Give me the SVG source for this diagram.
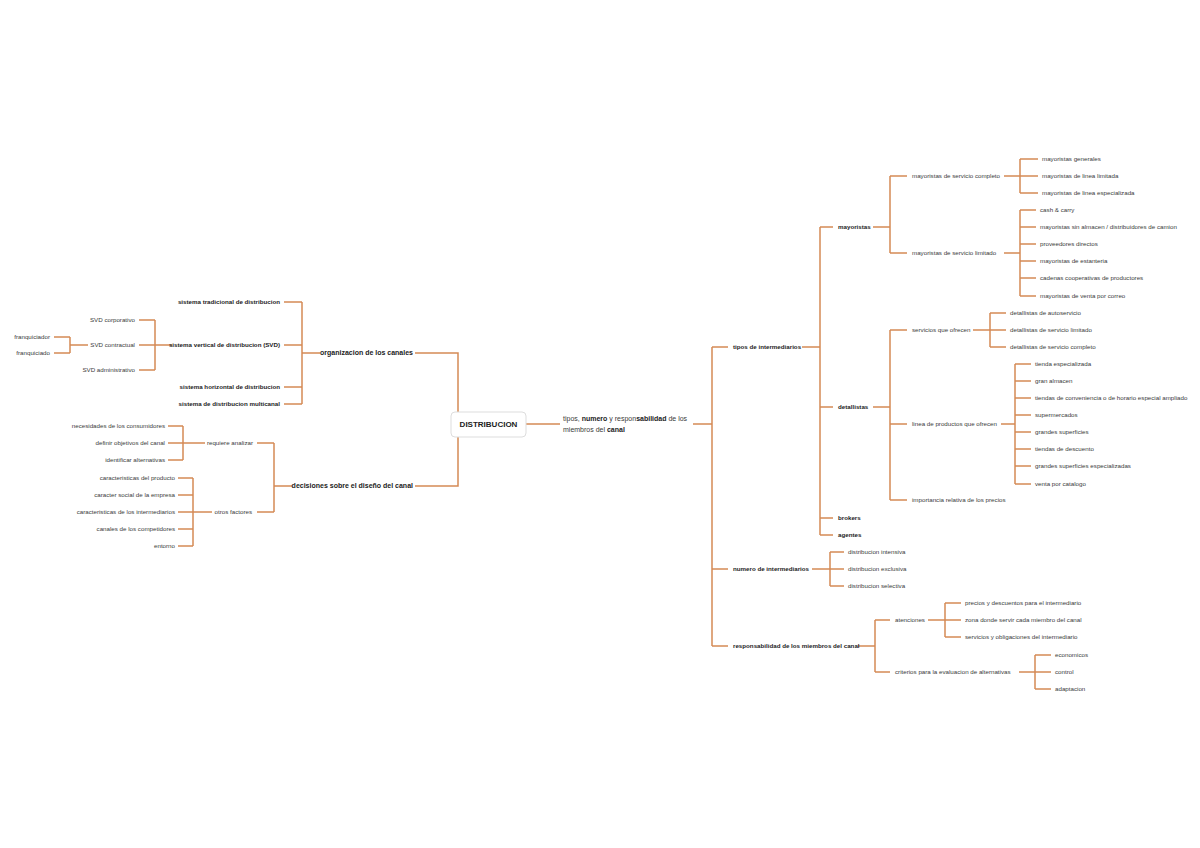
<svg xmlns="http://www.w3.org/2000/svg" width="1200" height="848" viewBox="0 0 1200 848">
<style>
text{font-family:"Liberation Sans",Arial,sans-serif;font-size:6.2px;fill:#3a3a3a;dominant-baseline:middle}
.b{font-weight:bold;fill:#222}
.r{text-anchor:end}
.m{font-size:7px}
#connectors path{fill:none;stroke:#d58a55;stroke-width:1.5}
</style>
<rect width="1200" height="848" fill="#fff"/>
<g id="connectors">
<path d="M526 424H560M693 424H712M712 347V646M712 347H728M712 569H728M712 646H728"/>
<path d="M802 347H820M820 227V535M820 227H833M820 407H833M820 518H833M820 535H833"/>
<path d="M873 227H890M890 176V253M890 176H907M890 253H907M1004 176H1020M1020 159V193M1020 159H1038M1020 176H1038M1020 193H1038"/>
<path d="M1004 253H1020M1020 210V296M1020 210H1036M1020 227H1036M1020 244H1036M1020 261H1036M1020 278H1036M1020 296H1036"/>
<path d="M873 407H890M890 330V500M890 330H907M890 424H907M890 500H907M973 330H990M990 313V347M990 313H1006M990 330H1006M990 347H1006"/>
<path d="M1001 424H1015M1015 364V484M1015 364H1031M1015 381H1031M1015 398H1031M1015 415H1031M1015 432H1031M1015 449H1031M1015 466H1031M1015 484H1031"/>
<path d="M812 569H830M830 552V586M830 552H844M830 569H844M830 586H844"/>
<path d="M858 646H875M875 620V672M875 620H890M875 672H890M928 620H945M945 603V637M945 603H961M945 620H961M945 637H961M1019 672H1035M1035 655V689M1035 655H1051M1035 672H1051M1035 689H1051"/>
<path d="M458 412V353H415M458 437V486H415M320 353H302M302 302V404M302 302H284M302 345H284M302 387H284M302 404H284"/>
<path d="M172 345H155M155 320V370M155 320H139M155 345H139M155 370H139M88 345H70M70 337V353M70 337H54M70 353H54"/>
<path d="M292 486H274M274 443V512M274 443H257M274 512H257M205 443H183M183 426V460M183 426H168M183 443H168M183 460H168M212 512H193M193 478V546M193 478H178M193 495H178M193 512H178M193 529H178M193 546H178"/>
</g>
<g id="central"><rect x="451" y="412" width="75" height="25" rx="4" fill="#fff" stroke="#ddd"/><text x="488.5" y="424.5" class="b" style="font-size:8px;text-anchor:middle">DISTRIBUCION</text></g>
<g id="n-tipos"><text x="563" y="419" class="m">tipos, <tspan class="b">numero</tspan> y respon<tspan class="b">sabilidad</tspan> de los</text><text x="563" y="430" class="m">miembros del <tspan class="b">canal</tspan></text></g>
<g id="n-right">
<text x="733" y="347" class="b">tipos de intermediarios</text>
<text x="838" y="227" class="b">mayoristas</text>
<text x="912" y="176">mayoristas de servicio completo</text>
<text x="1042" y="159">mayoristas generales</text>
<text x="1042" y="176">mayoristas de linea limitada</text>
<text x="1042" y="193">mayoristas de linea especializada</text>
<text x="912" y="253">mayoristas de servicio limitado</text>
<text x="1040" y="210">cash &amp; carry</text>
<text x="1040" y="227">mayoristas sin almacen / distribuidores de camion</text>
<text x="1040" y="244">proveedores directos</text>
<text x="1040" y="261">mayoristas de estanteria</text>
<text x="1040" y="278">cadenas cooperativas de productores</text>
<text x="1040" y="296">mayoristas de venta por correo</text>
<text x="838" y="407" class="b">detallistas</text>
<text x="912" y="330">servicios que ofrecen</text>
<text x="1010" y="313">detallistas de autoservicio</text>
<text x="1010" y="330">detallistas de servicio limitado</text>
<text x="1010" y="347">detallistas de servicio completo</text>
<text x="912" y="424">linea de productos que ofrecen</text>
<text x="1035" y="364">tienda especializada</text>
<text x="1035" y="381">gran almacen</text>
<text x="1035" y="398">tiendas de conveniencia o de horario especial ampliado</text>
<text x="1035" y="415">supermercados</text>
<text x="1035" y="432">grandes superficies</text>
<text x="1035" y="449">tiendas de descuento</text>
<text x="1035" y="466">grandes superficies especializadas</text>
<text x="1035" y="484">venta por catalogo</text>
<text x="912" y="500">importancia relativa de los precios</text>
<text x="838" y="518" class="b">brokers</text>
<text x="838" y="535" class="b">agentes</text>
<text x="733" y="569" class="b">numero de intermediarios</text>
<text x="848" y="552">distribucion intensiva</text>
<text x="848" y="569">distribucion exclusiva</text>
<text x="848" y="586">distribucion selectiva</text>
<text x="733" y="646" class="b">responsabilidad de los miembros del canal</text>
<text x="895" y="620">atenciones</text>
<text x="965" y="603">precios y descuentos para el intermediario</text>
<text x="965" y="620">zona donde servir cada miembro del canal</text>
<text x="965" y="637">servicios y obligaciones del intermediario</text>
<text x="895" y="672">criterios para la evaluacion de alternativas</text>
<text x="1055" y="655">economicos</text>
<text x="1055" y="672">control</text>
<text x="1055" y="689">adaptacion</text>
</g>
<g id="n-left">
<text x="413" y="353" class="b r m">organizacion de los canales</text>
<text x="280" y="302" class="b r">sistema tradicional de distribucion</text>
<text x="280" y="345" class="b r">sistema vertical de distribucion (SVD)</text>
<text x="280" y="387" class="b r">sistema horizontal de distribucion</text>
<text x="280" y="404" class="b r">sistema de distribucion multicanal</text>
<text x="135" y="320" class="r">SVD corporativo</text>
<text x="135" y="345" class="r">SVD contractual</text>
<text x="135" y="370" class="r">SVD administrativo</text>
<text x="50" y="337" class="r">franquiciador</text>
<text x="50" y="353" class="r">franquiciado</text>
<text x="413" y="486" class="b r m">decisiones sobre el diseño del canal</text>
<text x="253" y="443" class="r">requiere analizar</text>
<text x="165" y="426" class="r">necesidades de los consumidores</text>
<text x="165" y="443" class="r">definir objetivos del canal</text>
<text x="165" y="460" class="r">identificar alternativas</text>
<text x="252" y="512" class="r">otros factores</text>
<text x="175" y="478" class="r">caracteristicas del producto</text>
<text x="175" y="495" class="r">caracter social de la empresa</text>
<text x="175" y="512" class="r">caracteristicas de los intermediarios</text>
<text x="175" y="529" class="r">canales de los competidores</text>
<text x="175" y="546" class="r">entorno</text>
</g>
</svg>
